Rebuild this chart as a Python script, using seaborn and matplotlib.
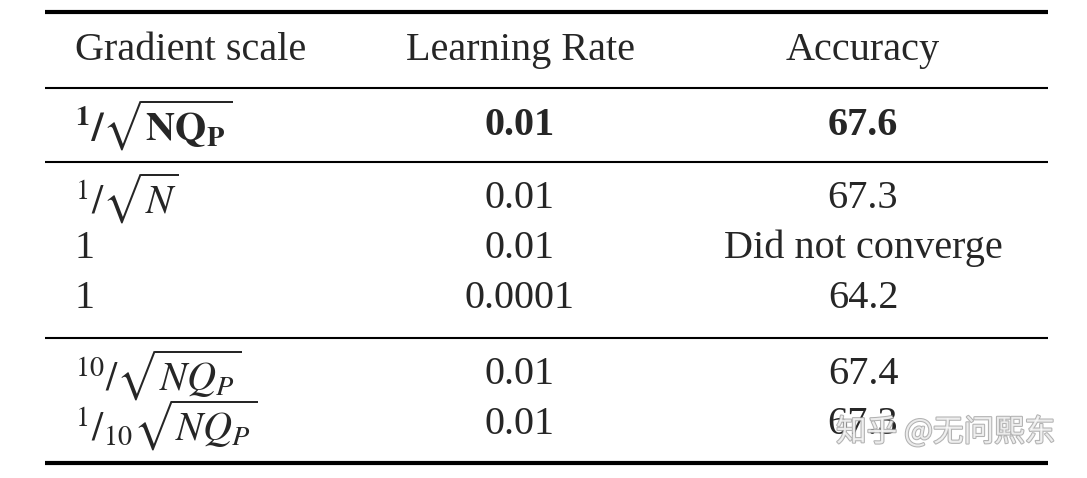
import matplotlib
matplotlib.use("Agg")
import matplotlib.pyplot as plt
import matplotlib.patheffects as pe
import seaborn as sns

sns.set_theme(style="white")
plt.rcParams["font.family"] = ["Liberation Serif", "DejaVu Serif"]
plt.rcParams["mathtext.fontset"] = "stix"

headers = ["Gradient scale", "Learning Rate", "Accuracy"]
scales = [r"$\mathbf{^{1}/\sqrt{NQ_{P}}}$", r"$^{1}/\sqrt{N}$", "1", "1",
          r"$^{10}/\sqrt{NQ_P}$", r"$^{1}/_{10}\sqrt{NQ_P}$"]
rates = ["0.01", "0.01", "0.01", "0.0001", "0.01", "0.01"]
accs = ["67.6", "67.3", "Did not converge", "64.2", "67.4", "67.3"]
bold = [True, False, False, False, False, False]
row_y = [125, 198, 248, 298, 375, 425]

fig = plt.figure(figsize=(10.87, 4.78), dpi=100)
ax = fig.add_axes([0, 0, 1, 1])
ax.set_xlim(0, 1087)
ax.set_ylim(478, 0)
ax.axis("off")

fs = 29
ax.text(75, 50, headers[0], fontsize=fs, ha="left", va="center")
ax.text(520, 50, headers[1], fontsize=fs, ha="center", va="center")
ax.text(863, 50, headers[2], fontsize=fs, ha="center", va="center")

for s, r, a, b, y in zip(scales, rates, accs, bold, row_y):
    w = "bold" if b else "normal"
    ax.text(75, y, s, fontsize=fs, ha="left", va="center", fontweight=w)
    ax.text(520, y, r, fontsize=fs, ha="center", va="center", fontweight=w)
    ax.text(863, y, a, fontsize=fs, ha="center", va="center", fontweight=w)

for y, lw in [(12, 3), (88, 1.5), (162, 1.5), (338, 1.5), (463, 3)]:
    ax.plot([45, 1048], [y, y], color="black", lw=lw, solid_capstyle="butt")

ax.text(1055, 432, "知乎 @无问熙东", fontsize=22, ha="right", va="center",
        color="white", alpha=0.75, family=["Noto Sans CJK SC", "DejaVu Sans"],
        path_effects=[pe.withStroke(linewidth=1.5, foreground="#999999")])

fig.savefig("out.png", dpi=100)
